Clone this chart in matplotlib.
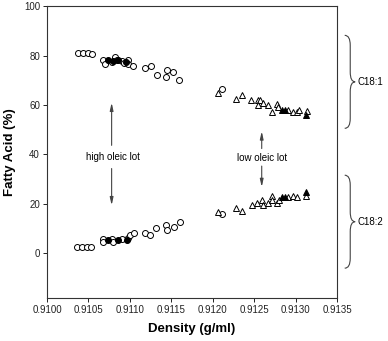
import matplotlib

matplotlib.use("Agg")

import matplotlib.pyplot as plt
import matplotlib.transforms as mtransforms
from matplotlib.path import Path
from matplotlib.patches import PathPatch

plt.rcParams["font.family"] = ["Liberation Sans", "DejaVu Sans"]

# high oleic lot (circles)
hi_open_x_181 = [0.91037, 0.91043, 0.91049, 0.91054, 0.91068, 0.91070, 0.91078, 0.91082, 0.91084,
                 0.91090, 0.91093, 0.91098, 0.91098, 0.91104, 0.91118, 0.91126, 0.91133, 0.91143,
                 0.91145, 0.91152, 0.91159, 0.91211]
hi_open_181 = [81.1, 81.3, 81.1, 80.9, 78.4, 76.8, 77.4, 79.5, 78.1, 77.8, 77.2, 78.4, 76.8, 75.8,
               75.0, 75.8, 72.4, 71.4, 74.4, 73.4, 70.0, 66.7]
hi_fill_x_181 = [0.91074, 0.91080, 0.91086, 0.91095]
hi_fill_181 = [78.4, 77.9, 78.1, 77.6]

hi_open_x_182 = [0.91036, 0.91042, 0.91048, 0.91053, 0.91068, 0.91068, 0.91078, 0.91080, 0.91090,
                 0.91098, 0.91100, 0.91105, 0.91118, 0.91124, 0.91132, 0.91143, 0.91145, 0.91153,
                 0.91160, 0.91211]
hi_open_182 = [2.6, 2.6, 2.6, 2.6, 5.7, 4.6, 5.7, 4.6, 5.9, 6.2, 7.3, 8.0, 8.0, 7.3, 10.0, 11.3,
               9.3, 10.6, 12.7, 15.7]
hi_fill_x_182 = [0.91074, 0.91086, 0.91096]
hi_fill_182 = [5.3, 5.3, 5.3]

# low oleic lot (triangles)
lo_open_x_181 = [0.91206, 0.91228, 0.91235, 0.91246, 0.91254, 0.91257, 0.91260, 0.91254, 0.91266,
                 0.91271, 0.91277, 0.91279, 0.91291, 0.91297, 0.91302, 0.91304, 0.91314]
lo_open_181 = [64.9, 62.6, 64.0, 61.9, 61.9, 62.2, 60.9, 59.9, 59.9, 57.2, 60.6, 59.2, 58.2, 57.2,
               57.2, 57.9, 57.6]
lo_fill_x_181 = [0.91283, 0.91287, 0.91312]
lo_fill_181 = [57.9, 57.9, 55.9]

lo_open_x_182 = [0.91206, 0.91228, 0.91235, 0.91247, 0.91253, 0.91259, 0.91260, 0.91266, 0.91271,
                 0.91271, 0.91278, 0.91280, 0.91291, 0.91297, 0.91302, 0.91313]
lo_open_182 = [16.5, 18.1, 17.1, 19.4, 20.5, 21.5, 19.4, 20.4, 23.1, 21.5, 20.4, 21.7, 22.8, 23.1,
               22.8, 23.1]
lo_fill_x_182 = [0.91283, 0.91287, 0.91312]
lo_fill_182 = [22.8, 22.8, 24.6]

x_ticks = [0.9100, 0.9105, 0.9110, 0.9115, 0.9120, 0.9125, 0.9130, 0.9135]
y_ticks = [0, 20, 40, 60, 80, 100]

figure = plt.figure(figsize=(3.88, 3.41), dpi=100)
axis = figure.add_axes([0.121, 0.126, 0.748, 0.855])

ms = 4.3
open_style = dict(linestyle="none", markerfacecolor="white", markeredgecolor="black", markeredgewidth=0.7, markersize=ms)
fill_style = dict(linestyle="none", markerfacecolor="black", markeredgecolor="black", markeredgewidth=0.7, markersize=ms)

axis.plot(hi_open_x_181, hi_open_181, marker="o", **open_style)
axis.plot(hi_open_x_182, hi_open_182, marker="o", **open_style)
axis.plot(hi_fill_x_181, hi_fill_181, marker="o", **fill_style)
axis.plot(hi_fill_x_182, hi_fill_182, marker="o", **fill_style)
axis.plot(lo_open_x_181, lo_open_181, marker="^", **open_style)
axis.plot(lo_open_x_182, lo_open_182, marker="^", **open_style)
axis.plot(lo_fill_x_181, lo_fill_181, marker="^", **fill_style)
axis.plot(lo_fill_x_182, lo_fill_182, marker="^", **fill_style)

# lot annotations
arrow = dict(arrowstyle="-|>,head_length=0.45,head_width=0.1", color="#444444", lw=0.8, shrinkA=0, shrinkB=0)
axis.text(0.91080, 39.0, "high oleic lot", ha="center", va="center", fontsize=7)
axis.annotate("", xy=(0.91078, 61.0), xytext=(0.91078, 43.7), arrowprops=arrow)
axis.annotate("", xy=(0.91078, 19.4), xytext=(0.91078, 34.3), arrowprops=arrow)
axis.text(0.91260, 38.6, "low oleic lot", ha="center", va="center", fontsize=7)
axis.annotate("", xy=(0.91259, 49.4), xytext=(0.91259, 42.4), arrowprops=arrow)
axis.annotate("", xy=(0.91259, 26.8), xytext=(0.91259, 35.3), arrowprops=arrow)


def brace(ax, y_top, y_bot, label):
    trans = mtransforms.blended_transform_factory(ax.transAxes, ax.transData)
    x0, x1, x2 = 1.026, 1.045, 1.062
    r = 4.0
    ym = (y_top + y_bot) / 2
    verts = [(x0, y_top), (x1, y_top), (x1, y_top - r),
             (x1, ym + r), (x1, ym), (x2, ym),
             (x1, ym), (x1, ym - r),
             (x1, y_bot + r), (x1, y_bot), (x0, y_bot)]
    codes = [Path.MOVETO, Path.CURVE3, Path.CURVE3,
             Path.LINETO, Path.CURVE3, Path.CURVE3,
             Path.CURVE3, Path.CURVE3,
             Path.LINETO, Path.CURVE3, Path.CURVE3]
    patch = PathPatch(Path(verts, codes), transform=trans, facecolor="none",
                      edgecolor="#444444", lw=0.8, clip_on=False)
    ax.add_patch(patch)
    ax.text(x2 + 0.008, ym, label, transform=trans, ha="left", va="center", fontsize=7, clip_on=False)


brace(axis, 88.3, 50.6, "C18:1")
brace(axis, 31.6, -6.1, "C18:2")

axis.set_xlim(0.9100, 0.9135)
axis.set_ylim(-18.2, 100)
axis.set_xticks(x_ticks)
axis.set_xticklabels([f"{t:.4f}" for t in x_ticks])
axis.set_yticks(y_ticks)
axis.tick_params(direction="out", length=3, width=0.7, labelsize=7, pad=2, colors="#222222")
for spine in axis.spines.values():
    spine.set_linewidth(0.8)
    spine.set_color("#333333")
axis.set_xlabel("Density (g/ml)", fontsize=9.5, fontweight="bold", labelpad=6)
axis.set_ylabel("Fatty Acid (%)", fontsize=9.5, fontweight="bold", labelpad=6)

figure.savefig("out.png", dpi=100)
plt.close(figure)
